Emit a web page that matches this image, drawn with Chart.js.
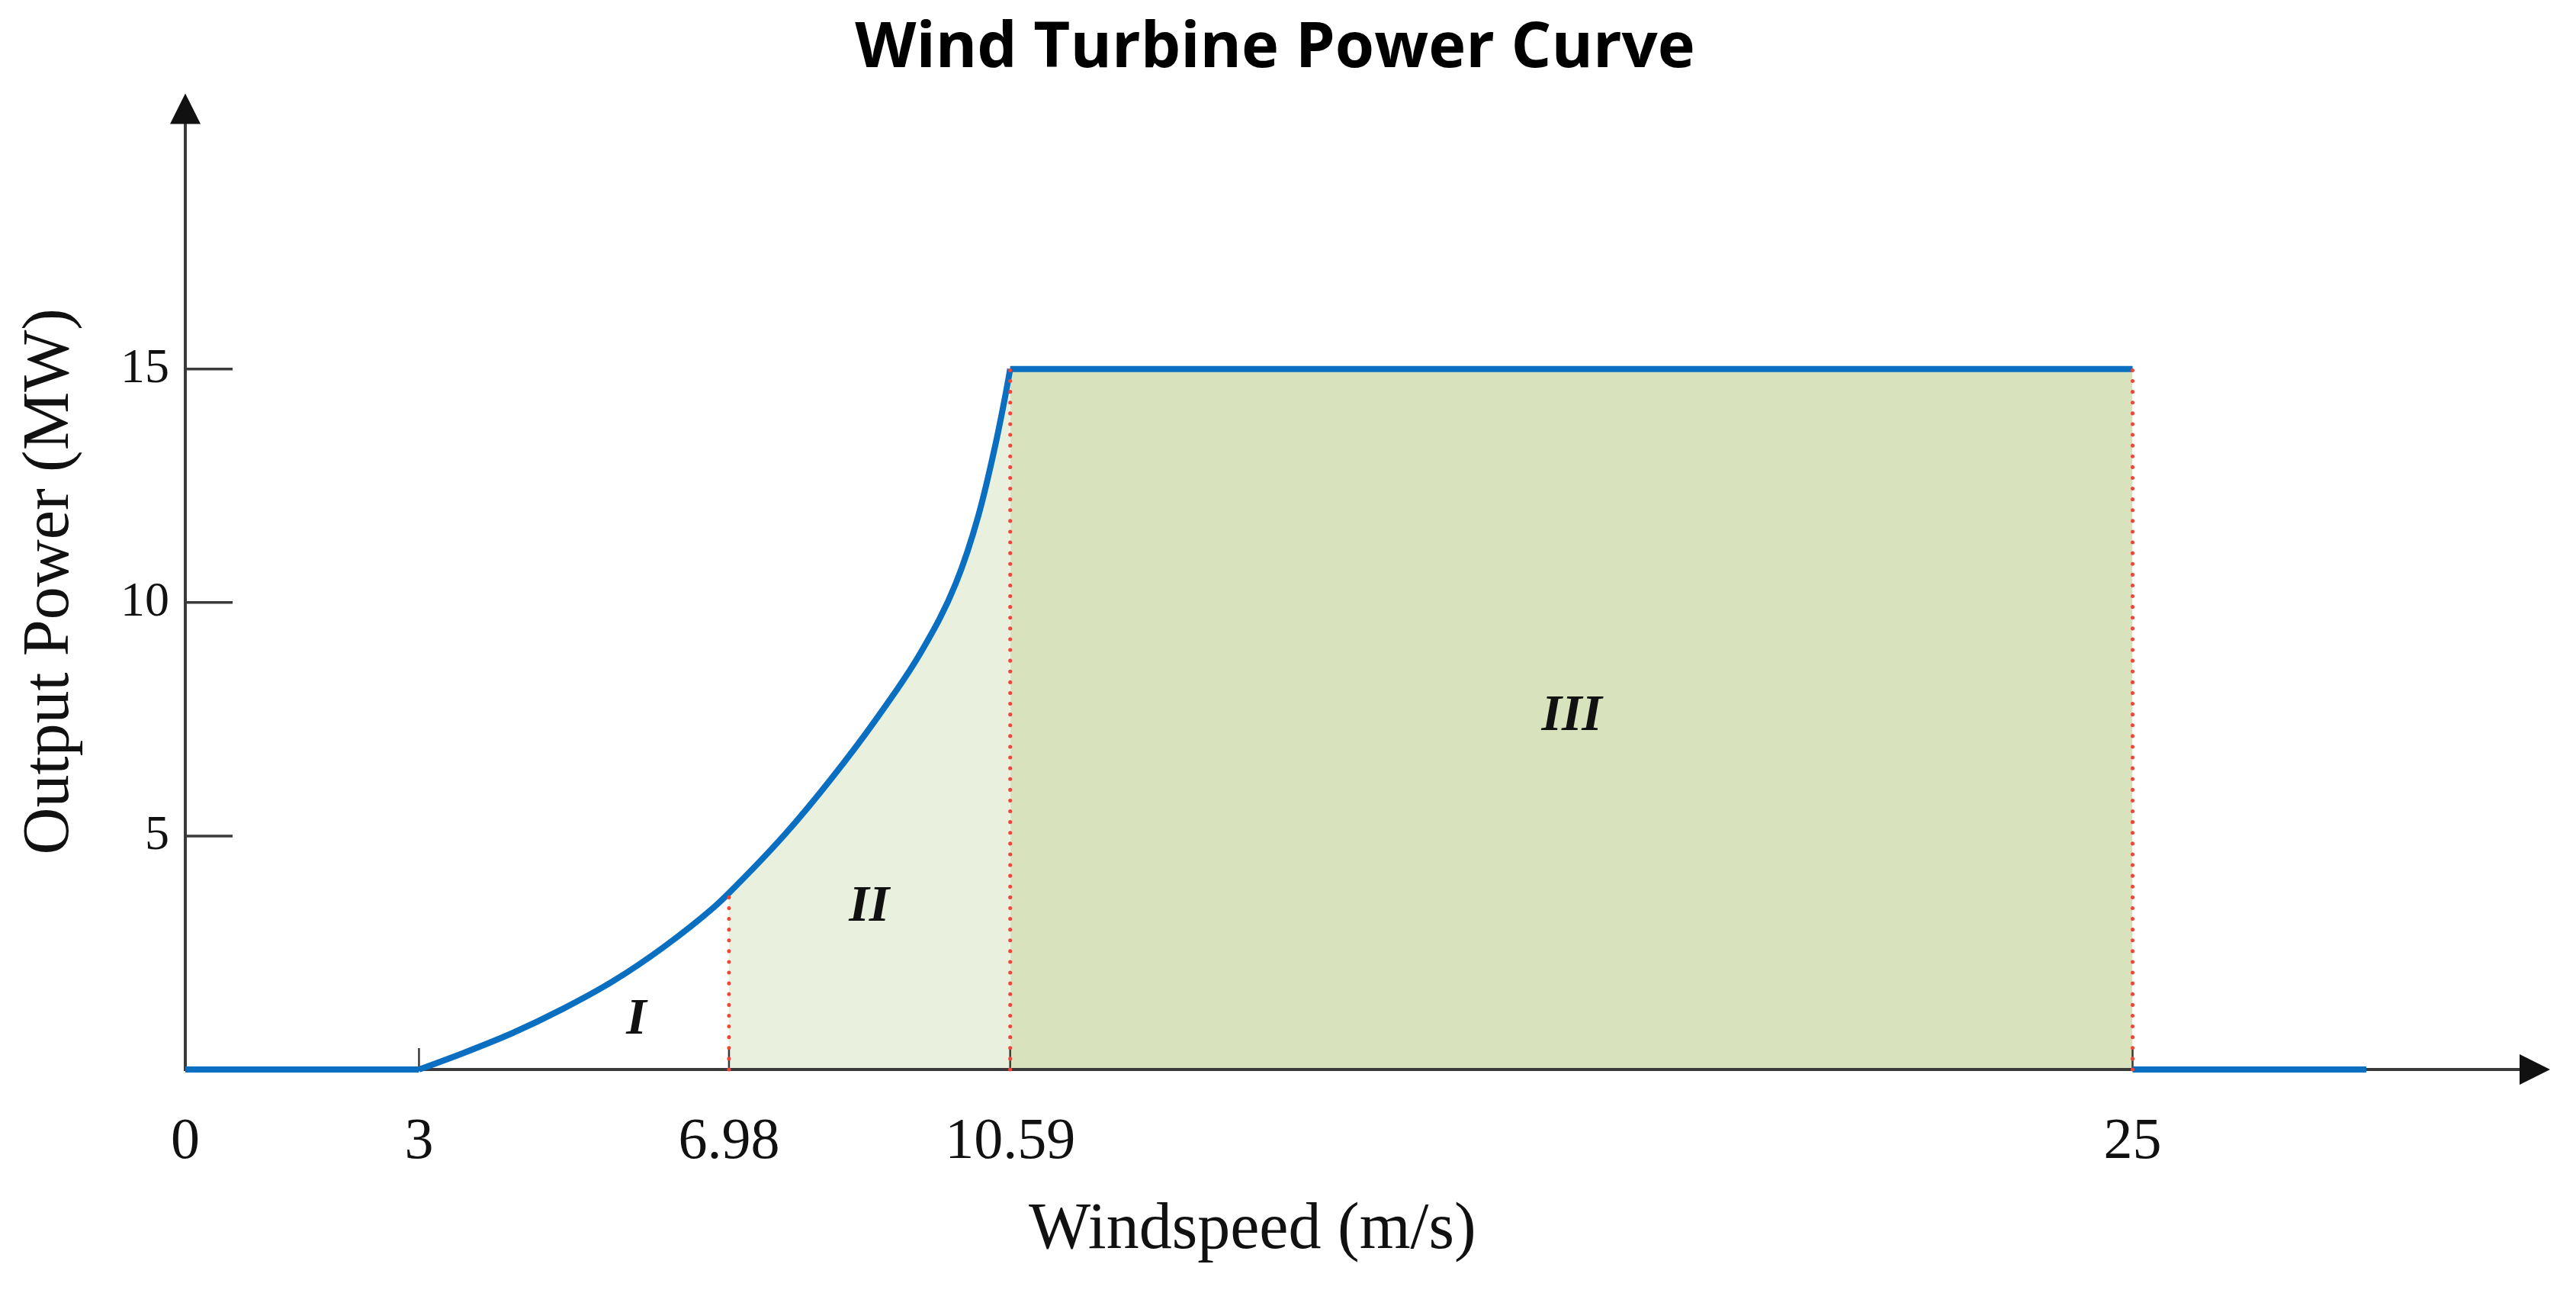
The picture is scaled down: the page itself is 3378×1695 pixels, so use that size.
<!DOCTYPE html>
<html>
<head>
<meta charset="utf-8">
<script src="https://cdn.jsdelivr.net/npm/chart.js@4.4.1/dist/chart.umd.min.js"></script>
<style>
  html, body { margin: 0; padding: 0; background: #ffffff; }
  #c { display: block; }
</style>
</head>
<body>
<canvas id="c" width="3378" height="1695" style="width:3378px;height:1695px"></canvas>
<script>
// ---------------- data ----------------
const curveSpeed = [3, 3.55, 4.20, 4.85, 5.50, 6.14, 6.79, 6.98, 7.69, 8.28, 8.86, 9.45, 9.89, 10.18, 10.39, 10.53, 10.59];
const curvePower = [0, 0.34, 0.78, 1.30, 1.90, 2.62, 3.48, 3.78, 5.02, 6.20, 7.48, 8.95, 10.40, 11.85, 13.30, 14.45, 15];
const cutInSpeed = 3;
const regionBoundarySpeed = 6.98;
const ratedSpeed = 10.59;
const cutOutSpeed = 25;
const lineEndSpeed = 28;
const ratedPower = 15;
const regionBoundaryPower = 3.78;
const xTickValues = [0, 3, 6.98, 10.59, 25];
const xTickLabels = ['0', '3', '6.98', '10.59', '25'];
const yTickValues = [5, 10, 15];
const yTickLabels = ['5', '10', '15'];
const regionNames = ['I', 'II', 'III'];
const regionLabelSpeed = [5.79, 8.78, 17.8];
const regionLabelPower = [1.05, 3.48, 7.55];
const axisMaxSpeed = 30.36;
const axisMaxPower = 20.9;
const chartTitle = 'Wind Turbine Power Curve';
const xAxisTitle = 'Windspeed (m/s)';
const yAxisTitle = 'Output Power (MW)';

// ---------------- helpers ----------------
const pts = (xs, ys) => xs.map((x, i) => ({ x: x, y: ys[i] }));
const curvePts = pts(curveSpeed, curvePower);
const regionIIPts = curvePts.filter(p => p.x >= regionBoundarySpeed);

const BLUE = '#0b6fc1';
const RED = '#f0463a';
const AXIS = '#3a3a3a';

function seg(points, style) {
  return Object.assign({
    data: points, pointRadius: 0, pointHoverRadius: 0, fill: false,
    tension: 0, clip: false, borderWidth: 0
  }, style);
}
const blueStyle = { borderColor: BLUE, borderWidth: 8, borderCapStyle: 'butt', borderJoinStyle: 'round' };
const redStyle = { borderColor: RED, borderWidth: 5, borderDash: [0.1, 14], borderCapStyle: 'round' };

const datasets = [
  // red dotted boundaries (on top)
  seg(pts([regionBoundarySpeed, regionBoundarySpeed], [0, regionBoundaryPower]), Object.assign({ order: 0 }, redStyle)),
  seg(pts([ratedSpeed, ratedSpeed], [0, ratedPower]), Object.assign({ order: 0 }, redStyle)),
  seg(pts([cutOutSpeed, cutOutSpeed], [0, ratedPower]), Object.assign({ order: 0 }, redStyle)),
  // blue power curve
  seg(curvePts, Object.assign({ order: 1, cubicInterpolationMode: 'monotone' }, blueStyle)),
  seg(pts([ratedSpeed, cutOutSpeed], [ratedPower, ratedPower]), Object.assign({ order: 1 }, blueStyle)),
  seg(pts([0, cutInSpeed], [0, 0]), Object.assign({ order: 1 }, blueStyle)),
  seg(pts([cutOutSpeed, lineEndSpeed], [0, 0]), Object.assign({ order: 2, drawAxesBefore: true }, blueStyle)),
  // filled regions
  seg(regionIIPts, { order: 3, fill: 'origin', backgroundColor: '#e9f0dd', borderColor: 'rgba(0,0,0,0)', cubicInterpolationMode: 'monotone' }),
  seg(pts([ratedSpeed, cutOutSpeed], [ratedPower, ratedPower]), { order: 4, fill: 'origin', backgroundColor: '#d8e3be', borderColor: 'rgba(0,0,0,0)' })
];

// ---------------- custom drawing plugin ----------------
function drawAxes(chart) {
  const ctx = chart.ctx;
  const xs = chart.scales.x, ys = chart.scales.y;
  const x0 = xs.getPixelForValue(0), y0 = ys.getPixelForValue(0);
  const xEnd = xs.getPixelForValue(axisMaxSpeed), yEnd = ys.getPixelForValue(axisMaxPower);
  const aLen = 40, aHalf = 20;
  ctx.save();
  ctx.strokeStyle = AXIS; ctx.fillStyle = '#111';
  ctx.lineWidth = 4; ctx.lineCap = 'butt';
  ctx.beginPath();
  ctx.moveTo(x0, y0 + 2); ctx.lineTo(x0, yEnd + aLen - 2);
  ctx.moveTo(x0 - 2, y0); ctx.lineTo(xEnd - aLen + 2, y0);
  ctx.stroke();
  // arrow heads
  ctx.beginPath();
  ctx.moveTo(x0, yEnd); ctx.lineTo(x0 - aHalf, yEnd + aLen); ctx.lineTo(x0 + aHalf, yEnd + aLen); ctx.closePath();
  ctx.fill();
  ctx.beginPath();
  ctx.moveTo(xEnd, y0); ctx.lineTo(xEnd - aLen, y0 - aHalf); ctx.lineTo(xEnd - aLen, y0 + aHalf); ctx.closePath();
  ctx.fill();
  // y tick marks
  ctx.lineWidth = 3.5;
  ctx.beginPath();
  yTickValues.forEach(v => { const py = ys.getPixelForValue(v); ctx.moveTo(x0, py); ctx.lineTo(x0 + 62, py); });
  ctx.stroke();
  // x tick marks
  ctx.lineWidth = 2.5;
  ctx.beginPath();
  xTickValues.filter(v => v > 0).forEach(v => { const px = xs.getPixelForValue(v); ctx.moveTo(px, y0); ctx.lineTo(px, y0 - 28); });
  ctx.stroke();
  ctx.restore();
}

const customPlugin = {
  id: 'customPlugin',
  beforeDatasetDraw(chart, args) {
    const ds = chart.data.datasets[args.index];
    if (ds && ds.drawAxesBefore) drawAxes(chart);
  },
  afterDraw(chart) {
    const ctx = chart.ctx;
    const xs = chart.scales.x, ys = chart.scales.y;
    ctx.save();
    // region labels
    ctx.fillStyle = '#111';
    ctx.font = 'italic bold 68px "Liberation Serif", "DejaVu Serif", serif';
    ctx.textAlign = 'center'; ctx.textBaseline = 'middle';
    regionNames.forEach((n, i) => {
      ctx.fillText(n, xs.getPixelForValue(regionLabelSpeed[i]), ys.getPixelForValue(regionLabelPower[i]));
    });
    // x axis title
    ctx.font = '86px "Liberation Serif", "DejaVu Serif", serif';
    ctx.textBaseline = 'alphabetic';
    ctx.fillText(xAxisTitle, xs.getPixelForValue(13.7), ys.getPixelForValue(0) + 234);
    ctx.restore();
  }
};

new Chart(document.getElementById('c'), {
  type: 'line',
  data: { datasets: datasets },
  options: {
    responsive: false,
    devicePixelRatio: 1,
    animation: false,
    events: [],
    layout: { padding: { left: 0, right: 34, top: 0, bottom: 0 } },
    plugins: {
      legend: { display: false },
      tooltip: { enabled: false },
      title: {
        display: true,
        text: chartTitle,
        color: '#000',
        font: { family: '"Open Sans", "Noto Sans", sans-serif', size: 83, weight: 'bold' },
        padding: { top: 15, bottom: 8 }
      }
    },
    scales: {
      x: {
        type: 'linear',
        min: 0, max: axisMaxSpeed,
        grid: { display: false, drawTicks: false },
        border: { display: false },
        afterBuildTicks: (scale) => { scale.ticks = xTickValues.map(v => ({ value: v })); },
        afterFit: (scale) => { scale.height = 293; },
        ticks: {
          autoSkip: false, maxRotation: 0, minRotation: 0, padding: 50,
          color: '#111',
          font: { family: '"Liberation Serif", "DejaVu Serif", serif', size: 76 },
          callback: (v, i) => xTickLabels[i]
        }
      },
      y: {
        type: 'linear',
        min: 0, max: axisMaxPower,
        grid: { display: false, drawTicks: false },
        border: { display: false },
        afterBuildTicks: (scale) => { scale.ticks = yTickValues.map(v => ({ value: v })); },
        afterFit: (scale) => { scale.width = 243; },
        ticks: {
          autoSkip: false, padding: 21,
          color: '#111',
          font: { family: '"Liberation Serif", "DejaVu Serif", serif', size: 64 },
          callback: (v, i) => yTickLabels[i]
        },
        title: {
          display: true,
          text: yAxisTitle,
          color: '#111',
          font: { family: '"Liberation Serif", "DejaVu Serif", serif', size: 86 },
          padding: { top: 15, bottom: 0 }
        }
      }
    }
  },
  plugins: [customPlugin]
});
</script>
</body>
</html>
